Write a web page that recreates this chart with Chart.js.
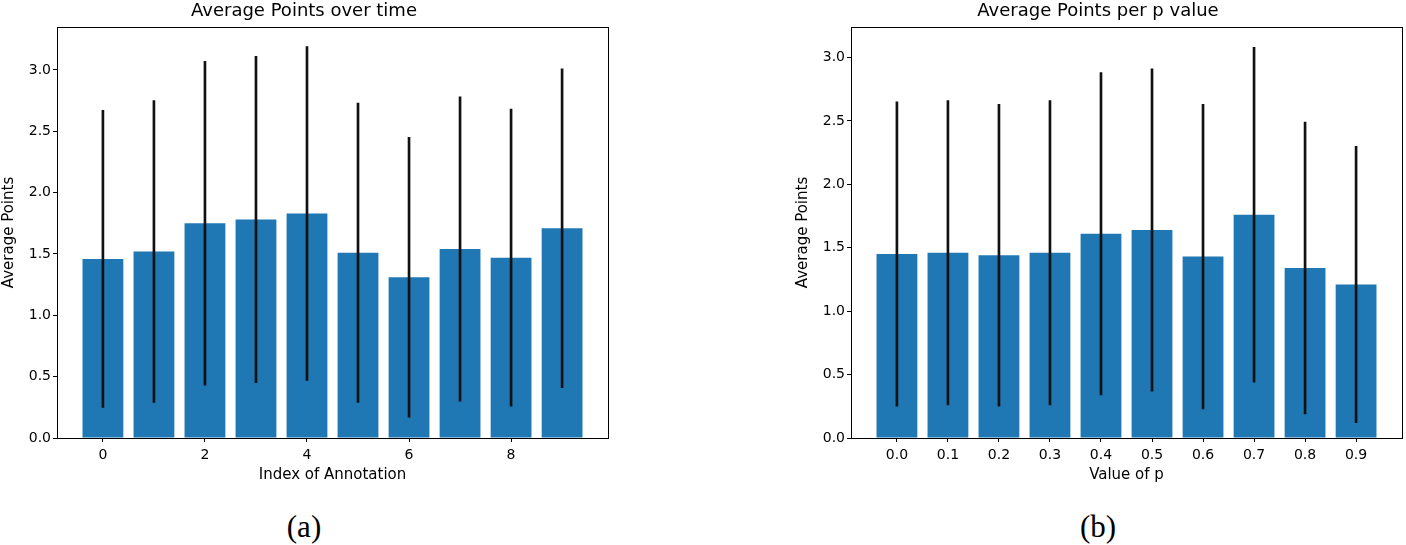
<!DOCTYPE html>
<html lang="en">
<head>
    <meta charset="UTF-8">
    <title>Average Points</title>
    <script src="https://cdn.jsdelivr.net/npm/chart.js"></script>
    <style>
        body { margin: 0; background: #fff; width: 1406px; height: 545px; position: relative; overflow: hidden; }
        .panel { position: absolute; top: 0; width: 612px; height: 484px; }
        .caption { position: absolute; top: 509px; width: 80px; margin-left: -40px; text-align: center;
                   font-family: "Liberation Serif", serif; font-size: 31px; color: #000; }
    </style>
</head>
<body>
    <div class="panel" style="left:0px;"><canvas id="chartA" width="612" height="484"></canvas></div>
    <div class="panel" style="left:794px;"><canvas id="chartB" width="612" height="484"></canvas></div>
    <div class="caption" style="left:304px;">(a)</div>
    <div class="caption" style="left:1098px;">(b)</div>

    <script>
        // (a) average points per annotation index
        const annIndex = [0, 1, 2, 3, 4, 5, 6, 7, 8, 9];
        const annMean  = [1.46, 1.52, 1.75, 1.78, 1.83, 1.51, 1.31, 1.54, 1.47, 1.71];
        const annErr   = [1.21, 1.23, 1.32, 1.33, 1.36, 1.22, 1.14, 1.24, 1.21, 1.30];
        const annXTicks = [0, 2, 4, 6, 8];
        const annYTicks = [0, 0.5, 1.0, 1.5, 2.0, 2.5, 3.0];

        // (b) average points per p value
        const pIndex  = [0, 1, 2, 3, 4, 5, 6, 7, 8, 9];
        const pLabels = ['0.0', '0.1', '0.2', '0.3', '0.4', '0.5', '0.6', '0.7', '0.8', '0.9'];
        const pMean   = [1.45, 1.46, 1.44, 1.46, 1.61, 1.64, 1.43, 1.76, 1.34, 1.21];
        const pErr    = [1.20, 1.20, 1.19, 1.20, 1.27, 1.27, 1.20, 1.32, 1.15, 1.09];
        const pYTicks = [0, 0.5, 1.0, 1.5, 2.0, 2.5, 3.0];

        const FONT = 'DejaVu Sans';
        Chart.defaults.color = '#000';
        Chart.defaults.font.family = FONT;

        // matplotlib style full frame around the plot area
        const framePlugin = {
            id: 'frame',
            afterDraw(chart) {
                const a = chart.chartArea, ctx = chart.ctx;
                ctx.save();
                ctx.strokeStyle = '#000';
                ctx.lineWidth = 1;
                ctx.strokeRect(Math.round(a.left) + 0.5, Math.round(a.top) + 0.5,
                               Math.round(a.right - a.left), Math.round(a.bottom - a.top));
                ctx.restore();
            }
        };

        function makeChart(id, opts) {
            const bars = opts.x.map((x, i) => ({ x: x, y: opts.mean[i] }));
            const errs = opts.x.map((x, i) => ({ x: x, y: [opts.mean[i] - opts.err[i], opts.mean[i] + opts.err[i]] }));
            return new Chart(document.getElementById(id), {
                type: 'bar',
                data: {
                    datasets: [
                        { label: 'err', data: errs, backgroundColor: '#111', barThickness: 2, grouped: false, order: 0 },
                        { label: 'mean', data: bars, backgroundColor: '#1f77b4', borderWidth: 0,
                          barPercentage: 0.8, categoryPercentage: 1.0, grouped: false, order: 1 }
                    ]
                },
                options: {
                    responsive: false,
                    animation: false,
                    layout: { padding: { left: 0, right: 4, top: 0, bottom: 0 } },
                    plugins: {
                        legend: { display: false },
                        tooltip: { enabled: false },
                        title: { display: true, text: opts.title, font: { size: 18, weight: 'normal', lineHeight: 1.2 },
                                 padding: { top: 1, bottom: 4.4 }, color: '#000' }
                    },
                    scales: {
                        x: {
                            type: 'linear', min: -0.9, max: 9.9, offset: false,
                            afterBuildTicks: s => { s.ticks = opts.xTicks.map(v => ({ value: v })); },
                            afterFit: s => { s.height = 46; },
                            grid: { display: true, drawOnChartArea: false, drawTicks: true, tickLength: 4, color: '#000', offset: false },
                            border: { display: true, color: '#000' },
                            ticks: { font: { size: 14 }, padding: 5, maxRotation: 0, autoSkip: false,
                                     callback: opts.xLabel },
                            title: { display: true, text: opts.xTitle, font: { size: 15 }, padding: 0 }
                        },
                        y: {
                            min: 0, max: opts.yMax,
                            afterBuildTicks: s => { s.ticks = opts.yTicks.map(v => ({ value: v })); },
                            afterFit: s => { s.width = 57; },
                            grid: { display: true, drawOnChartArea: false, drawTicks: true, tickLength: 4, color: '#000' },
                            border: { display: true, color: '#000' },
                            ticks: { font: { size: 14 }, padding: 2, callback: v => v.toFixed(1) },
                            title: { display: true, text: 'Average Points', font: { size: 15 }, padding: 0 }
                        }
                    }
                },
                plugins: [framePlugin]
            });
        }

        makeChart('chartA', {
            title: 'Average Points over time', x: annIndex, mean: annMean, err: annErr,
            xTicks: annXTicks, yTicks: annYTicks, yMax: 3.35,
            xLabel: v => String(v), xTitle: 'Index of Annotation'
        });

        makeChart('chartB', {
            title: 'Average Points per p value', x: pIndex, mean: pMean, err: pErr,
            xTicks: pIndex, yTicks: pYTicks, yMax: 3.24,
            xLabel: v => pLabels[v], xTitle: 'Value of p'
        });
    </script>
</body>
</html>
